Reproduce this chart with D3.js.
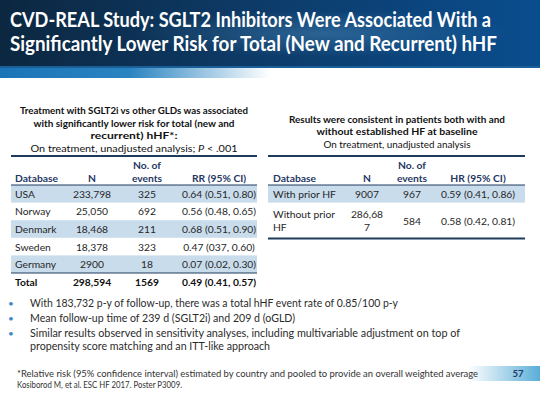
<!DOCTYPE html>
<html>
<head>
<meta charset="utf-8">
<script src="https://cdn.jsdelivr.net/npm/d3@7"></script>
<style>
    body { margin: 0; background: #fff; }
    svg { display: block; font-family: Lato, 'Open Sans', sans-serif; }
</style>
</head>
<body>
<svg id="slide" width="540" height="405"></svg>
<script>
// ---- slide content ----
var titleLines = [
    'CVD-REAL Study: SGLT2 Inhibitors Were Associated With a',
    'Significantly Lower Risk for Total (New and Recurrent) hHF'
];

var leftHeading = [
    'Treatment with SGLT2i vs other GLDs was associated',
    'with significantly lower risk for total (new and',
    'recurrent) hHF*:'
];
var leftSubheading = ['On treatment, unadjusted analysis; ', 'P', ' < .001'];

var leftColumns = ['Database', 'N', 'No. of events', 'RR (95% CI)'];
var countries = ['USA', 'Norway', 'Denmark', 'Sweden', 'Germany', 'Total'];
var countryN = ['233,798', '25,050', '18,468', '18,378', '2900', '298,594'];
var countryEvents = ['325', '692', '211', '323', '18', '1569'];
var countryRR = ['0.64 (0.51, 0.80)', '0.56 (0.48, 0.65)', '0.68 (0.51, 0.90)',
    '0.47 (037, 0.60)', '0.07 (0.02, 0.30)', '0.49 (0.41, 0.57)'];

var rightHeading = [
    'Results were consistent in patients both with and',
    'without established HF at baseline'
];
var rightSubheading = 'On treatment, unadjusted analysis';

var rightColumns = ['Database', 'N', 'No. of events', 'HR (95% CI)'];
var hfGroups = ['With prior HF', 'Without prior HF'];
var hfN = ['9007', '286,687'];
var hfEvents = ['967', '584'];
var hfHR = ['0.59 (0.41, 0.86)', '0.58 (0.42, 0.81)'];

var bulletLines = [
    ['With 183,732 p-y of follow-up, there was a total hHF event rate of 0.85/100 p-y'],
    ['Mean follow-up time of 239 d (SGLT2i) and 209 d (oGLD)'],
    ['Similar results observed in sensitivity analyses, including multivariable adjustment on top of',
     'propensity score matching and an ITT-like approach']
];

var footnotes = [
    '*Relative risk (95% confidence interval) estimated by country and pooled to provide an overall weighted average',
    'Kosiborod M, et al. ESC HF 2017. Poster P3009.'
];
var pageNumber = '57';

// ---- drawing ----
var svg = d3.select('#slide');
var defs = svg.append('defs');

var navy = '#1f3864',
    textColor = '#262626',
    shade = '#c9dcec',
    ruleColor = '#1f3b5c',
    cellSize = '10.3px';

// squeeze a text line to the width it has on the slide
function fit(sel, w) {
    if (w) sel.attr('textLength', w).attr('lengthAdjust', 'spacingAndGlyphs');
    return sel;
}

// gradients for the title band
var bandGrad = defs.append('linearGradient').attr('id', 'band');
bandGrad.append('stop').attr('offset', '0%').attr('stop-color', '#0c2740');
bandGrad.append('stop').attr('offset', '45%').attr('stop-color', '#0d3a66');
bandGrad.append('stop').attr('offset', '100%').attr('stop-color', '#0a4d8e');

var glow = defs.append('radialGradient').attr('id', 'glow')
    .attr('cx', 0.6).attr('cy', 0.5).attr('r', 0.35);
glow.append('stop').attr('offset', '0%').attr('stop-color', '#4f8fbf').attr('stop-opacity', 0.45);
glow.append('stop').attr('offset', '100%').attr('stop-color', '#4f8fbf').attr('stop-opacity', 0);

var stripGrad = defs.append('linearGradient').attr('id', 'strip');
stripGrad.append('stop').attr('offset', '0%').attr('stop-color', '#1b74b6');
stripGrad.append('stop').attr('offset', '24%').attr('stop-color', '#2a84c1');
stripGrad.append('stop').attr('offset', '50%').attr('stop-color', '#ffffff');
stripGrad.append('stop').attr('offset', '100%').attr('stop-color', '#ffffff');

var pageGrad = defs.append('linearGradient').attr('id', 'page');
pageGrad.append('stop').attr('offset', '0%').attr('stop-color', '#ffffff');
pageGrad.append('stop').attr('offset', '100%').attr('stop-color', '#5aaed8');

svg.append('rect').attr('width', 540).attr('height', 67).attr('fill', 'url(#band)');
svg.append('rect').attr('width', 540).attr('height', 67).attr('fill', 'url(#glow)');
svg.append('rect').attr('y', 66).attr('width', 540).attr('height', 2).attr('fill', '#1a5f98');
svg.append('rect').attr('y', 68).attr('width', 540).attr('height', 10).attr('fill', 'url(#strip)');

var titleWidths = [481, 487];
svg.append('g').selectAll('text')
    .data(titleLines)
    .join('text')
        .attr('x', 10)
        .attr('y', (d, i) => 27 + i * 23.5)
        .attr('fill', '#fff')
        .attr('font-size', '20px')
        .attr('font-weight', 'bold')
        .text(d => d)
        .each(function(d, i) { fit(d3.select(this), titleWidths[i]); });

// headings above the tables
function drawHeading(cx, lines, widths, firstY, sub, subWidth) {
    var g = svg.append('g').attr('text-anchor', 'middle').attr('fill', '#111');
    g.selectAll('text.h')
        .data(lines)
        .join('text')
            .attr('class', 'h')
            .attr('x', cx)
            .attr('y', (d, i) => firstY + i * 12.5)
            .attr('font-size', '10px')
            .attr('font-weight', 'bold')
            .text(d => d)
            .each(function(d, i) { fit(d3.select(this), widths[i]); });

    var s = g.append('text')
        .attr('x', cx)
        .attr('y', firstY + lines.length * 12.5)
        .attr('font-size', '10px');
    if (Array.isArray(sub)) {
        s.selectAll('tspan')
            .data(sub)
            .join('tspan')
                .attr('font-style', (d, i) => i === 1 ? 'italic' : null)
                .text(d => d);
    } else {
        s.text(sub);
    }
    fit(s, subWidth);
}

drawHeading(134, leftHeading, [228, 201, 87], 114, leftSubheading, 207);
drawHeading(397, rightHeading, [216, 161], 122.5, rightSubheading, 147);

// hidden text used for measuring when wrapping cells
var probe = svg.append('text').attr('font-size', cellSize).attr('visibility', 'hidden');
function measure(str, bold) {
    probe.attr('font-weight', bold ? 'bold' : 'normal').text(str);
    return probe.node().getComputedTextLength();
}
function wrap(str, maxW, bold) {
    var words = str.split(' '), lines = [], cur = '';
    words.forEach(w => {
        var test = cur ? cur + ' ' + w : w;
        if (measure(test, bold) <= maxW) { cur = test; return; }
        if (cur) lines.push(cur);
        cur = w;
        // a single word that is too wide is broken by characters
        while (measure(cur, bold) > maxW && cur.length > 1) {
            var k = cur.length - 1;
            while (k > 1 && measure(cur.slice(0, k), bold) > maxW) k--;
            lines.push(cur.slice(0, k));
            cur = cur.slice(k);
        }
    });
    if (cur) lines.push(cur);
    return lines;
}

function drawTable(cfg) {
    var g = svg.append('g');
    var lineGap = 13;

    // header cells are bottom-aligned
    var headG = g.append('g').attr('fill', navy).attr('font-weight', 'bold').attr('font-size', cellSize);
    cfg.columns.forEach((label, c) => {
        var lines = wrap(label, cfg.headWrap[c], true);
        headG.append('text')
            .attr('text-anchor', cfg.anchors[c])
            .selectAll('tspan')
            .data(lines)
            .join('tspan')
                .attr('x', cfg.xs[c])
                .attr('y', (d, i) => cfg.headBase - (lines.length - 1 - i) * lineGap)
                .text(d => d);
    });

    // body rows, heights follow the number of wrapped lines
    var cells = cfg.rows.map((row, r) => row.map((v, c) => wrap(v, cfg.wrapW[c], cfg.boldRow === r)));
    var heights = cells.map(row => 17.6 + (d3.max(row, l => l.length) - 1) * 18.4);
    var tops = [cfg.bodyTop].concat(Array.from(d3.cumsum(heights), h => cfg.bodyTop + h));
    var y = d3.scaleOrdinal(d3.range(cfg.rows.length), tops);
    var x = d3.scaleOrdinal(d3.range(cfg.columns.length), cfg.xs);

    g.insert('g', ':first-child').selectAll('rect')
        .data(cfg.rows.map((r, i) => i).filter(i => i % 2 === 0 && i !== cfg.boldRow))
        .join('rect')
            .attr('x', cfg.x0)
            .attr('y', i => y(i))
            .attr('width', cfg.x1 - cfg.x0)
            .attr('height', i => heights[i])
            .attr('fill', shade);

    var bodyG = g.append('g').attr('font-size', cellSize);
    cells.forEach((row, r) => {
        var mid = y(r) + heights[r] / 2;
        row.forEach((lines, c) => {
            bodyG.append('text')
                .attr('text-anchor', cfg.anchors[c])
                .attr('fill', cfg.boldRow === r ? '#111' : textColor)
                .attr('font-weight', cfg.boldRow === r ? 'bold' : null)
                .selectAll('tspan')
                .data(lines)
                .join('tspan')
                    .attr('x', x(c))
                    .attr('y', (d, i) => mid + 4 + (i - (lines.length - 1) / 2) * lineGap)
                    .text(d => d);
        });
    });

    // rules
    var rules = [{ y: cfg.top, w: 2 }, { y: cfg.bodyTop, w: 1 }];
    if (cfg.boldRow != null) rules.push({ y: y(cfg.boldRow), w: 1 });
    if (cfg.bottomRule) rules.push({ y: tops[tops.length - 1], w: 2 });
    g.append('g').selectAll('line')
        .data(rules)
        .join('line')
            .attr('x1', cfg.x0)
            .attr('x2', cfg.x1)
            .attr('y1', d => d.y)
            .attr('y2', d => d.y)
            .attr('stroke', ruleColor)
            .attr('stroke-width', d => d.w);
}

drawTable({
    columns: leftColumns,
    rows: countries.map((c, i) => [c, countryN[i], countryEvents[i], countryRR[i]]),
    xs: [15, 92, 147, 219],
    anchors: ['start', 'middle', 'middle', 'middle'],
    headWrap: [80, 40, 40, 80],
    wrapW: [80, 50, 40, 90],
    x0: 11, x1: 257,
    top: 156, headBase: 182, bodyTop: 185,
    boldRow: countries.length - 1,
    bottomRule: false
});

drawTable({
    columns: rightColumns,
    rows: hfGroups.map((c, i) => [c, hfN[i], hfEvents[i], hfHR[i]]),
    xs: [273, 367, 412, 478],
    anchors: ['start', 'middle', 'middle', 'middle'],
    headWrap: [80, 40, 40, 80],
    wrapW: [70, 36, 40, 90],
    x0: 268, x1: 525,
    top: 156, headBase: 182, bodyTop: 185,
    boldRow: null,
    bottomRule: true
});

// bullet points
var bulletWidths = [[368], [265], [430, 240]];
var bulletG = svg.append('g').attr('font-size', '11.5px');
var lineY = 307;
bulletLines.forEach((lines, b) => {
    bulletG.append('text')
        .attr('x', 8)
        .attr('y', lineY)
        .attr('fill', '#3f87c7')
        .attr('font-size', '10px')
        .text('\u2022');
    lines.forEach((l, i) => {
        bulletG.append('text')
            .attr('x', 30)
            .attr('y', lineY + i * 12.5)
            .attr('fill', '#2b2b2b')
            .text(l)
            .call(fit, bulletWidths[b][i]);
    });
    lineY += (lines.length - 1) * 12.5 + 15;
});

// footnotes and page number
svg.append('rect').attr('x', 468).attr('y', 366).attr('width', 72).attr('height', 15).attr('fill', 'url(#page)');
svg.append('text')
    .attr('x', 518)
    .attr('y', 377)
    .attr('text-anchor', 'middle')
    .attr('font-size', '9.5px')
    .attr('font-weight', 'bold')
    .attr('fill', navy)
    .text(pageNumber);

var footWidths = [461, 165];
svg.append('g').selectAll('text')
    .data(footnotes)
    .join('text')
        .attr('x', 17)
        .attr('y', (d, i) => 376.5 + i * 11.5)
        .attr('font-size', '9.6px')
        .attr('fill', '#333')
        .text(d => d)
        .each(function(d, i) { fit(d3.select(this), footWidths[i]); });

probe.remove();
</script>
</body>
</html>
